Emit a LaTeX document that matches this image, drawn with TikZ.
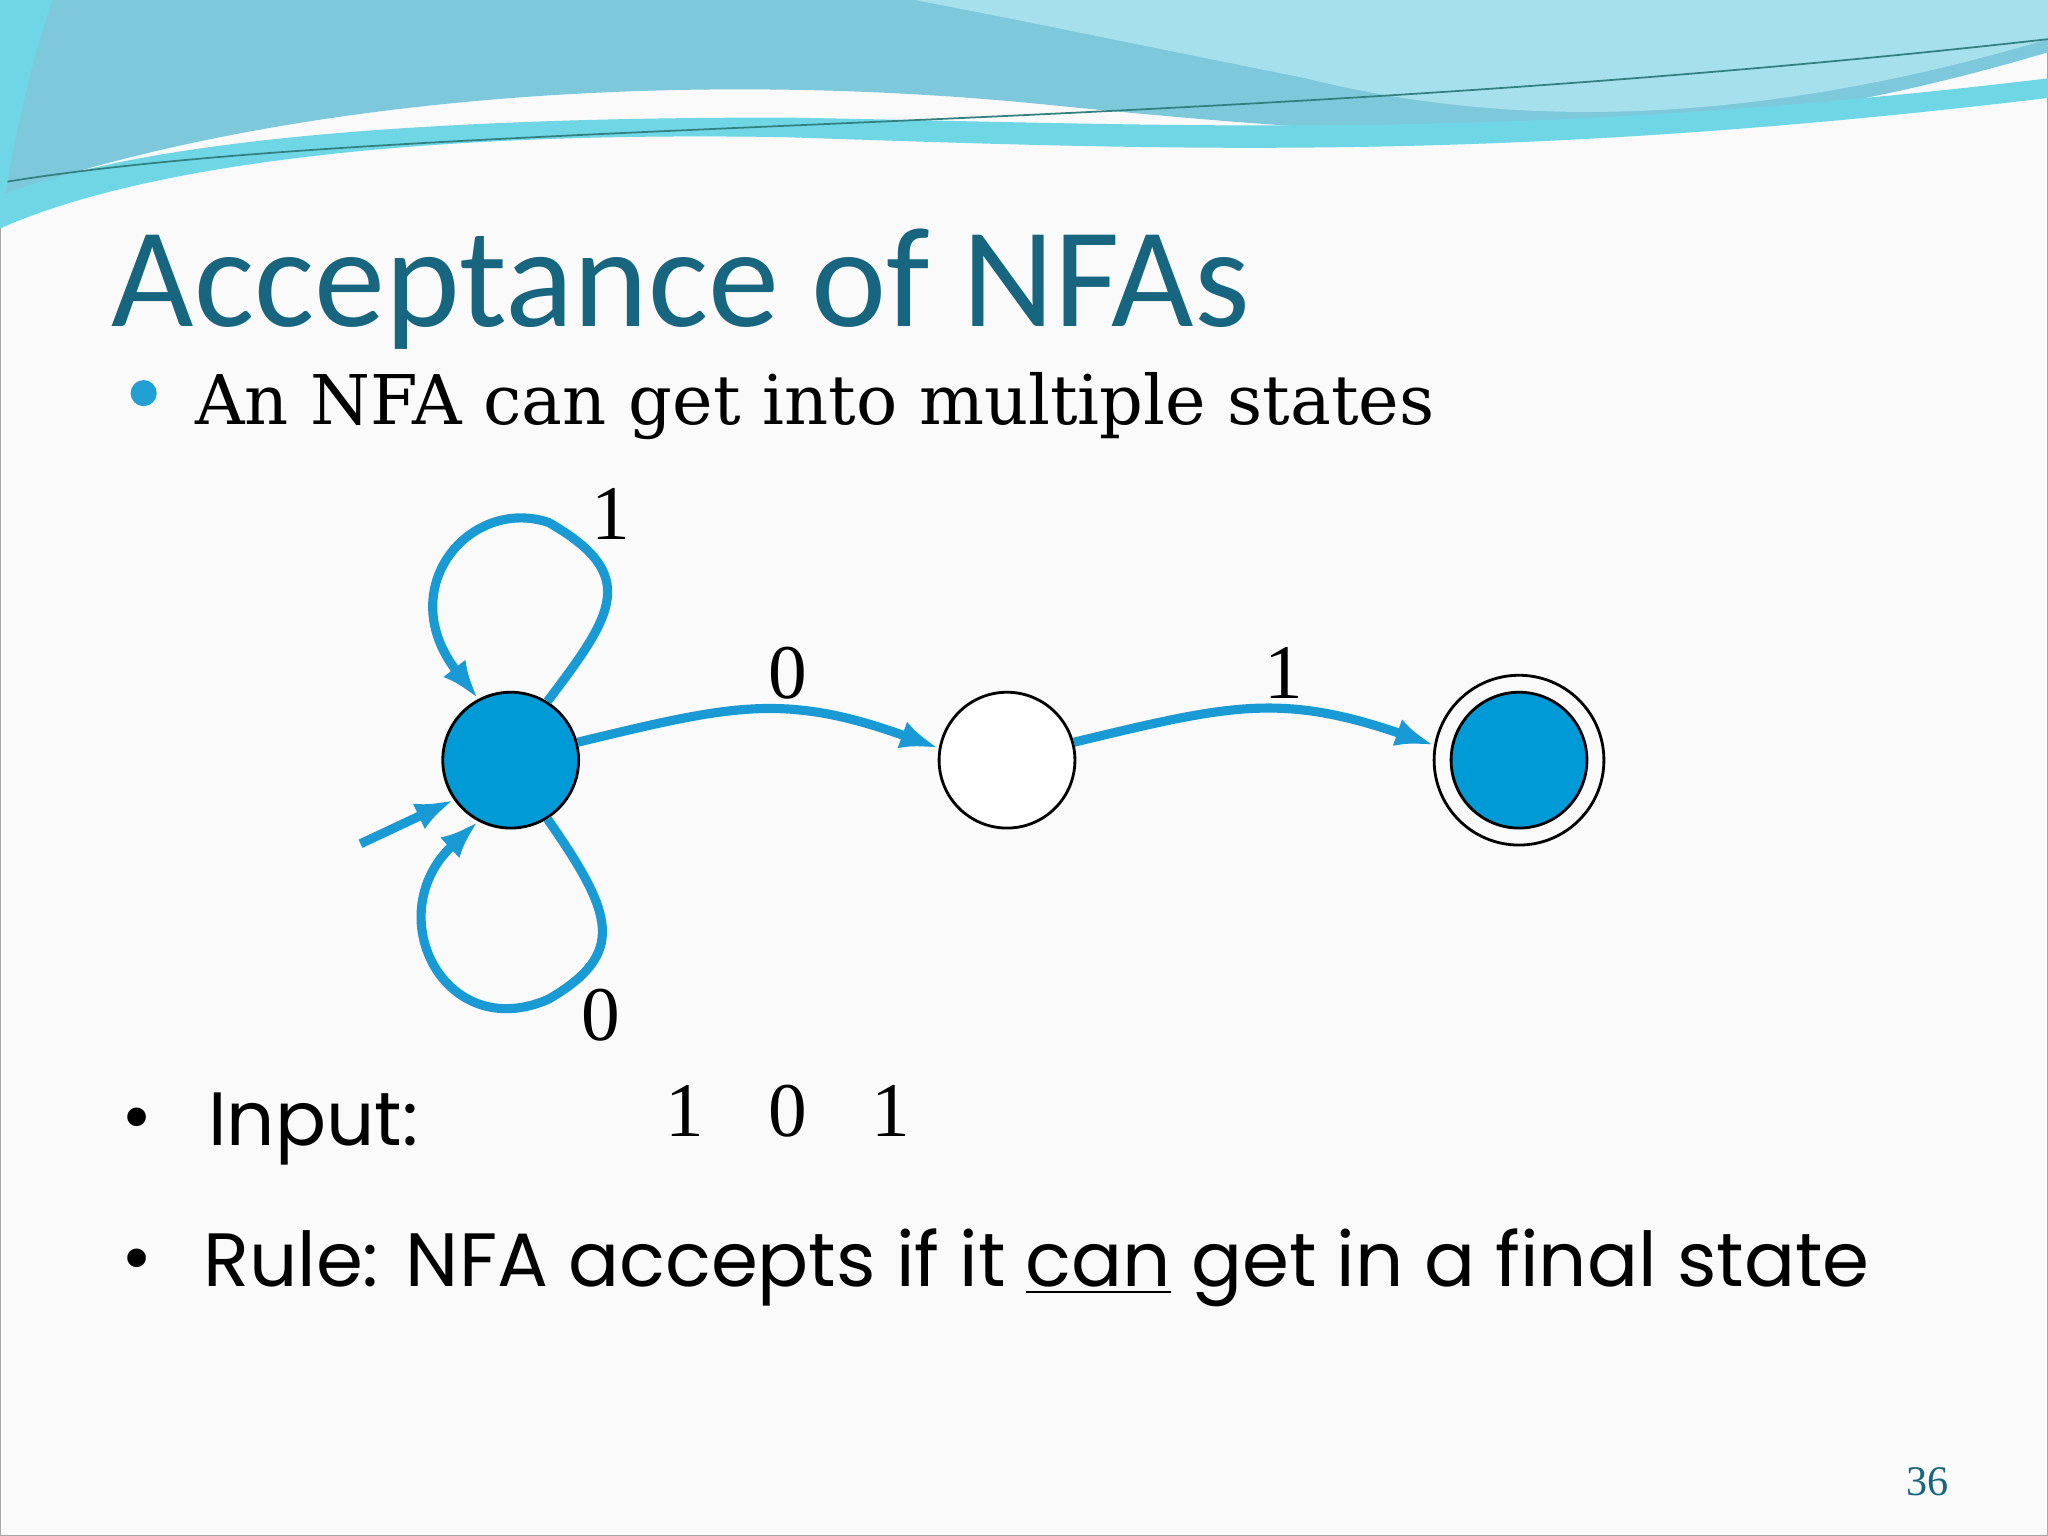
\documentclass[tikz,border=0pt]{standalone}
\usepackage{fontspec}
\setmainfont{Liberation Serif}
\newfontfamily\titlefont{Carlito}
\newfontfamily\bodyfont{DejaVu Serif}
\newfontfamily\comicfont{Poppins}
\usetikzlibrary{arrows.meta}
\definecolor{sblue}{HTML}{009BD6}
\definecolor{lblue}{HTML}{1A9AD4}
\definecolor{ttl}{HTML}{17657F}
\definecolor{wave1}{HTML}{7EC8DC}
\definecolor{wave2}{HTML}{A5E0EC}
\definecolor{wave3}{HTML}{6FD6E6}
\begin{document}
\begin{tikzpicture}[x=0.01306cm,y=-0.01306cm,
  st/.style={circle,draw=black,line width=0.8pt,minimum size=104*0.01306cm,inner sep=0},
  tr/.style={draw=lblue,line width=2.6pt,-{Latex[length=11pt,width=8pt]}},
  lab/.style={font=\fontsize{22}{24}\selectfont,anchor=base},
  ctext/.style={anchor=base west,font=\comicfont\fontsize{21.5}{26}\selectfont}]
\useasboundingbox (0,0) rectangle (1568,1176);
\fill[gray!4] (0,0) rectangle (1568,1176);
\draw[gray!70,line width=0.6pt] (0,0) rectangle (1568,1176);
% header waves
\fill[wave1] (0,0) -- (1568,0) -- (1568,40) .. controls (1300,120) and (1100,110) .. (800,80) .. controls (500,50) and (200,80) .. (0,150) -- cycle;
\fill[wave2] (700,0) -- (1568,0) -- (1568,30) .. controls (1400,80) and (1200,110) .. (1000,60) .. controls (850,30) and (780,15) .. (700,0);
\fill[wave3] (0,150) .. controls (100,110) and (300,90) .. (600,90) .. controls (900,95) and (1150,110) .. (1568,60) -- (1568,75) .. controls (1150,125) and (900,115) .. (600,105) .. controls (300,100) and (100,130) .. (0,175) -- cycle;
\draw[teal!60!gray,line width=0.5pt] (0,140) .. controls (300,90) and (900,105) .. (1568,30);
\fill[wave3] (0,0) -- (40,0) .. controls (20,60) and (8,120) .. (0,175) -- cycle;
% title and bullets
\node[anchor=base west,text=ttl,font=\titlefont\fontsize{40.5}{44}\selectfont] (title) at (76,250) {Acceptance of NFAs};
\fill[cyan!70!teal] (110,301) circle (10);
\node[anchor=base west,font=\bodyfont\fontsize{19.5}{24}\selectfont] (b1) at (140,325) {An NFA can get into multiple states};
% states
\node[st,fill=sblue] (q0) at (391,582) {};
\node[st,fill=white] (q1) at (771,582) {};
\node[st,fill=sblue] (q2) at (1163,582) {};
\node[circle,draw=black,line width=0.8pt,minimum size=130*0.01306cm] (q2o) at (1163,582) {};
\coordinate (s) at (276,646);
\draw[tr] (s) -- (q0.215);
\draw[tr] (q0.58) .. controls (470,470) and (490,440) .. (420,400) .. controls (360,380) and (300,450) .. (q0.118);
\draw[tr] (q0.-58) .. controls (470,700) and (480,730) .. (420,765) .. controls (340,800) and (290,700) .. (q0.-118);
\draw[tr] (q0.15) .. controls (560,540) and (600,530) .. (q1.170);
\draw[tr] (q1.15) .. controls (940,540) and (980,530) .. (q2o.170);
\node[lab] (l1) at (468,413) {1};
\node[lab] (l0) at (460,797) {0};
\node[lab] (la) at (603,535) {0};
\node[lab] (lb) at (983,535) {1};
% bottom text
\node[anchor=base,font=\comicfont\fontsize{21.5}{26}\selectfont] (bu1) at (105,875) {\textbullet};
\node[ctext] (in) at (150,877) {Input:};
\node[lab] (i1) at (524,870) {1};
\node[lab] (i2) at (603,870) {0};
\node[lab] (i3) at (682,870) {1};
\node[anchor=base,font=\comicfont\fontsize{21.5}{26}\selectfont] (bu2) at (105,983) {\textbullet};
\node[ctext,inner xsep=0pt] (rule) at (155,985) {Rule: NFA accepts if it \underline{can} get in a final state};
\node[anchor=base,text=ttl,font=\fontsize{12}{14}\selectfont] (pg) at (1476,1145) {36};
\end{tikzpicture}
\end{document}
